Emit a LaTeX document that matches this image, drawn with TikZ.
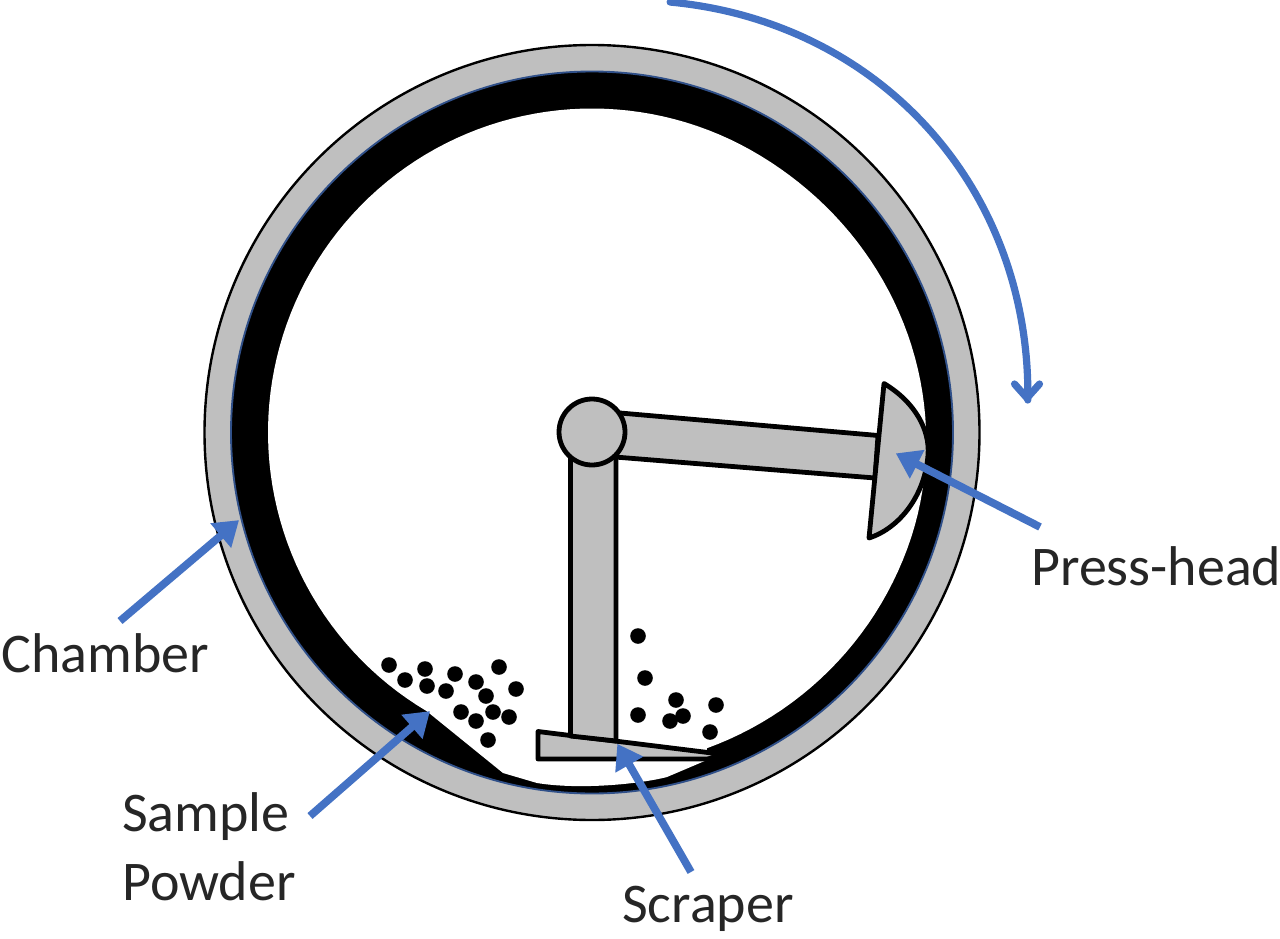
\documentclass[tikz,border=0pt]{standalone}
\usepackage{fontspec}
\setmainfont{Carlito}
\usetikzlibrary{arrows.meta}
\definecolor{partgrey}{HTML}{BFBFBF}
\definecolor{callout}{HTML}{4472C4}
\definecolor{labelink}{HTML}{262626}
\pgfmathdeclarefunction{edgetee}{1}{\pgfmathparse{max(0,min(1,(#1-300)/80))}}
\pgfmathdeclarefunction{edgeradius}{1}{\pgfmathparse{324+12*edgetee(#1)*edgetee(#1)*(3-2*edgetee(#1))}}
\pgfmathdeclarefunction{sweepradius}{1}{\pgfmathparse{437+16*sin(180*(#1+79.7)/75.5)}}
\tikzset{
  x=0.75pt,y=-0.75pt,
  part/.style={draw=black,line width=3.6pt,fill=partgrey,line join=round},
  grain/.style={fill=black,draw=none},
  pointer/.style={draw=callout,line width=5.8pt,-{Triangle[length=18pt,width=23pt]},shorten >=-1pt},
  sweep/.style={draw=callout,line width=5.4pt,line cap=round,line join=miter},
  labeltext/.style={font=\fontsize{42}{48}\selectfont,text=labelink,inner sep=0pt,align=left}
}
\begin{document}
\begin{tikzpicture}
\useasboundingbox (0,0) rectangle (1280,938);
% chamber wall and powder layer
\fill[white] (0,0) rectangle (1280,938);
\draw[black,line width=1.8pt,fill=partgrey] (592,432.5) circle[radius=387.5];
\draw[callout!70!black,line width=1.4pt,fill=black] (592,432.5) circle[radius=361];
% free interior
\fill[white] plot[domain=120.7:430,samples=150,variable=\t] ({592+edgeradius(\t)*cos(\t)},{432.5+edgeradius(\t)*sin(\t)})
  -- (707,760) -- (667,777)
  .. controls (640,784) and (580,790) .. (537,783)
  -- (503,773) -- cycle;
% scraper
\draw[part] (538,731.5) -- (728,755) -- (707,759) -- (538,759) -- cycle;
% vertical arm
\draw[part] (570.5,440) -- (570.5,736) -- (616,741) -- (616,440) -- cycle;
% horizontal arm
\draw[part] (620,413) -- (878,435.5) -- (875,478) -- (615,457) -- cycle;
% hub
\draw[part] (592,432) circle[radius=33];
% press head
\draw[part] (884,383.5) .. controls (915,402) and (930,430) .. (928,455)
  .. controls (925,495) and (900,528) .. (869,538) -- cycle;
% grains
\foreach \gx/\gy in {389/665,405/680,425/669,427/686,455/674,446/691,476/682,486/696,499/667,516/689,461/712,493/712,476/721,509/717,488/740,638/636,645/678,638/715,676/700,683/716,670/721,716/705,710/732}
  \fill[grain] (\gx,\gy) circle[radius=7.8];
% rotation arrow
\coordinate (rottip) at (1027,398);
\coordinate (rotleft) at (1014.5,384);
\coordinate (rotright) at (1039.5,384);
\draw[sweep] plot[domain=-79.7:-4.2,samples=80,variable=\t] ({592+sweepradius(\t)*cos(\t)},{432+sweepradius(\t)*sin(\t)});
\draw[sweep] (rotleft) -- (rottip) -- (rotright);
% labels
\node[labeltext,anchor=base west] (chamber) at (1,672) {Chamber};
\node[labeltext,anchor=base west] (presshead) at (1031,585) {Press-head};
\node[labeltext,anchor=base west] (sample) at (122,831) {Sample};
\node[labeltext,anchor=base west] (powder) at (122,900) {Powder};
\node[labeltext,anchor=base west] (scraper) at (622,922) {Scraper};
% pointers
\coordinate (chamberfrom) at (120,621);
\coordinate (chamberto) at (238,521);
\coordinate (pressfrom) at (1040,527);
\coordinate (pressto) at (897,454);
\coordinate (samplefrom) at (310,816);
\coordinate (sampleto) at (429,712);
\coordinate (scraperfrom) at (691,872);
\coordinate (scraperto) at (618,745);
\draw[pointer] (chamberfrom) -- (chamberto);
\draw[pointer] (pressfrom) -- (pressto);
\draw[pointer] (samplefrom) -- (sampleto);
\draw[pointer] (scraperfrom) -- (scraperto);
\end{tikzpicture}
\end{document}
